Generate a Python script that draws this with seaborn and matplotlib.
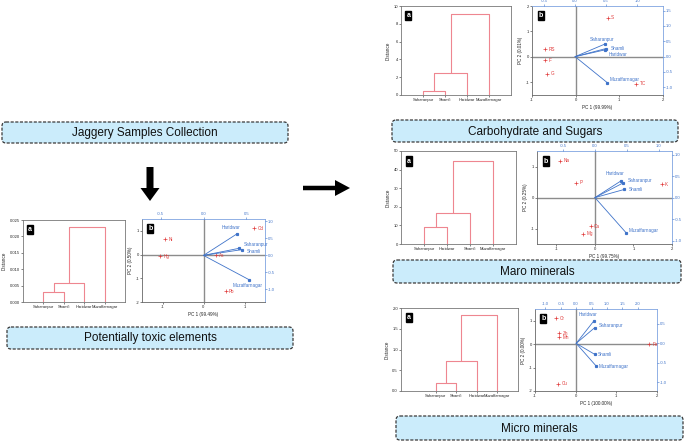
import numpy as np
import pandas as pd
import matplotlib
matplotlib.use('Agg')
import matplotlib.pyplot as plt
import seaborn as sns
from matplotlib.patches import FancyBboxPatch, FancyArrow

sns.set_theme(style='white')
plt.rcParams['font.family'] = ['Liberation Sans', 'DejaVu Sans']
plt.rcParams['axes.unicode_minus'] = False

# ---------------- data ----------------
box_titles = ['Jaggery Samples Collection', 'Potentially toxic elements',
              'Carbohydrate and Sugars', 'Maro minerals', 'Micro minerals']

# dendrograms (leaf order, successive merge heights)
pte_leaves = ['Saharanpur', 'Shamli', 'Haridwar', 'Muzaffarnagar']
pte_heights = [0.0030, 0.0058, 0.0228]
carb_leaves = ['Saharanpur', 'Shamli', 'Haridwar', 'Muzaffarnagar']
carb_heights = [0.45, 2.5, 9.1]
macro_leaves = ['Saharanpur', 'Haridwar', 'Shamli', 'Muzaffarnagar']
macro_heights = [9.0, 16.4, 44.6]
micro_leaves = ['Saharanpur', 'Shamli', 'Haridwar', 'Muzaffarnagar']
micro_heights = [0.20, 0.73, 1.84]

# PCA scores (variables)
pte_vars = ['Cd', 'Ni', 'Hg', 'As', 'Pb']
pte_pc1 = [1.23, -0.94, -1.06, 0.30, 0.54]
pte_pc2 = [1.10, 0.64, -0.07, -0.03, -1.54]
carb_vars = ['S', 'RS', 'F', 'G', 'TC']
carb_pc1 = [0.73, -0.70, -0.71, -0.66, 1.38]
carb_pc2 = [1.54, 0.29, -0.13, -0.66, -1.05]
macro_vars = ['Na', 'P', 'K', 'Ca', 'Mg']
macro_pc1 = [-0.90, -0.48, 1.73, -0.11, -0.31]
macro_pc2 = [1.18, 0.48, 0.43, -0.92, -1.17]
micro_vars = ['Cr', 'Zn', 'Mn', 'Fe', 'Cu']
micro_pc1 = [-0.48, -0.41, -0.41, 1.80, -0.43]
micro_pc2 = [1.11, 0.46, 0.29, 0.00, -1.69]

# PCA loadings (locations)
pte_sites = ['Haridwar', 'Saharanpur', 'Shamli', 'Muzaffarnagar']
pte_l1 = [0.39, 0.42, 0.45, 0.53]
pte_l2 = [0.63, 0.21, 0.17, -0.71]
carb_sites = ['Saharanpur', 'Shamli', 'Haridwar', 'Muzaffarnagar']
carb_l1 = [0.48, 0.49, 0.48, 0.52]
carb_l2 = [0.41, 0.26, 0.22, -0.85]
macro_sites = ['Haridwar', 'Saharanpur', 'Shamli', 'Muzaffarnagar']
macro_l1 = [0.41, 0.44, 0.46, 0.49]
macro_l2 = [0.39, 0.34, 0.19, -0.82]
micro_sites = ['Haridwar', 'Saharanpur', 'Shamli', 'Muzaffarnagar']
micro_l1 = [0.57, 0.60, 0.60, 0.65]
micro_l2 = [0.57, 0.40, -0.28, -0.58]

pc_labels = {'pte': ('PC 1 (99.49%)', 'PC 2 (0.50%)'),
             'carb': ('PC 1 (99.99%)', 'PC 2 (0.01%)'),
             'macro': ('PC 1 (99.75%)', 'PC 2 (0.25%)'),
             'micro': ('PC 1 (100.00%)', 'PC 2 (0.00%)')}

# ---------------- styling ----------------
W, H = 685, 442
RED = '#ee8690'
BLUE = '#3f73c9'
LBLUE = '#7fa3e0'
TS = 3.0

fig = plt.figure(figsize=(W / 100, H / 100), dpi=100)


def rect(x0, y0, x1, y1):
    return [x0 / W, 1 - y1 / H, (x1 - x0) / W, (y1 - y0) / H]


def panel_tag(ax, letter):
    ax.text(0.05, 0.93, letter, transform=ax.transAxes, ha='left', va='top',
            fontsize=5, color='white', fontweight='bold',
            bbox=dict(boxstyle='square,pad=0.15', fc='black', ec='black'))


def dendro(r, leaves, heights, ylim, yticks, yfmt, xlim=(0, 5)):
    ax = fig.add_axes(rect(*r))
    xs = np.arange(1, len(leaves) + 1)
    c, prev = (xs[0] + xs[1]) / 2, heights[0]
    ax.plot([xs[0], xs[0], xs[1], xs[1]], [0, heights[0], heights[0], 0], color=RED, lw=0.8)
    for i in range(2, len(leaves)):
        h = heights[i - 1]
        ax.plot([c, c, xs[i], xs[i]], [prev, h, h, 0], color=RED, lw=0.8)
        c, prev = (c + xs[i]) / 2, h
    ax.set_xlim(*xlim)
    ax.set_ylim(*ylim)
    ax.set_xticks(xs)
    ax.set_xticklabels(leaves)
    ax.set_yticks(yticks)
    ax.set_yticklabels([yfmt.format(v) for v in yticks])
    ax.tick_params(labelsize=TS, length=1.2, width=0.4, pad=1, direction='out',
                   left=True, bottom=True)
    ax.set_ylabel('Distance', fontsize=TS + 0.3, labelpad=2)
    for s in ax.spines.values():
        s.set_color('#777777')
        s.set_linewidth(0.6)
    panel_tag(ax, 'a')
    return ax


def pca(r, key, vars_, pc1, pc2, sites, l1, l2, lim, lim2, ticks, ticks2, offs):
    ax = fig.add_axes(rect(*r))
    df = pd.DataFrame({'var': vars_, 'PC1': pc1, 'PC2': pc2})
    ax.axhline(0, color='#8c8c8c', lw=1.0, zorder=1)
    ax.axvline(0, color='#8c8c8c', lw=1.0, zorder=1)
    sns.scatterplot(data=df, x='PC1', y='PC2', ax=ax, color='#e03a3a', marker='+',
                    s=6, linewidth=0.5, legend=False, zorder=3)
    for _, row in df.iterrows():
        ax.annotate(row['var'], (row['PC1'], row['PC2']), xytext=(2.5, 0),
                    textcoords='offset points', fontsize=3.3, color='#e03a3a',
                    ha='left', va='center')
    ax.set_xlim(*lim[0])
    ax.set_ylim(*lim[1])
    ax.set_xticks(ticks[0])
    ax.set_yticks(ticks[1])
    ax.set_xticklabels([f'{v:g}' for v in ticks[0]])
    ax.set_yticklabels([f'{v:g}' for v in ticks[1]])
    ax.tick_params(labelsize=TS, length=1.2, width=0.4, pad=1, left=True, bottom=True)
    ax.set_xlabel(pc_labels[key][0], fontsize=TS + 0.3, labelpad=2)
    ax.set_ylabel(pc_labels[key][1], fontsize=TS + 0.3, labelpad=2)
    for n, s in ax.spines.items():
        s.set_linewidth(0.6)
        s.set_color('#666666' if n in ('left', 'bottom') else LBLUE)

    ax2 = fig.add_axes(rect(*r))
    ax2.patch.set_alpha(0)
    for s in ax2.spines.values():
        s.set_visible(False)
    ax2.xaxis.tick_top()
    ax2.yaxis.tick_right()
    ax2.set_xlim(*lim2[0])
    ax2.set_ylim(*lim2[1])
    ax2.set_xticks(ticks2[0])
    ax2.set_yticks(ticks2[1])
    ax2.set_xticklabels([f'{v:.1f}' for v in ticks2[0]])
    ax2.set_yticklabels([f'{v:.1f}' for v in ticks2[1]])
    ax2.tick_params(labelsize=TS, length=1.2, width=0.4, pad=1, colors=BLUE,
                    top=True, right=True, bottom=False, left=False)
    ax2.grid(False)
    for name, a, b, (dx, dy, ha) in zip(sites, l1, l2, offs):
        ax2.plot([0, a], [0, b], color=BLUE, lw=0.6, zorder=2)
        ax2.plot([a], [b], marker='s', ms=1.3, color=BLUE, zorder=3)
        ax2.annotate(name, (a, b), xytext=(dx, dy), textcoords='offset points',
                     fontsize=3.3, color=BLUE, ha=ha, va='center')
    panel_tag(ax, 'b')
    return ax


# ---------------- dendrograms ----------------
dendro((23, 220, 125, 302), pte_leaves, pte_heights, (0, 0.025),
       [0, 0.005, 0.010, 0.015, 0.020, 0.025], '{:.3f}')
dendro((401, 6, 511, 95), carb_leaves, carb_heights, (0, 10),
       [0, 2, 4, 6, 8, 10], '{:g}')
dendro((401, 151, 516, 244), macro_leaves, macro_heights, (0, 50),
       [0, 10, 20, 30, 40, 50], '{:g}')
dendro((401, 308, 518, 391), micro_leaves, micro_heights, (0, 2.0),
       [0, 0.5, 1.0, 1.5, 2.0], '{:.1f}', xlim=(-0.7, 5.03))

# ---------------- biplots ----------------
pca((142, 219, 265, 302), 'pte', pte_vars, pte_pc1, pte_pc2, pte_sites, pte_l1, pte_l2,
    ((-1.5, 1.5), (-2, 1.5)), ((-0.72, 0.72), (-1.37, 1.07)),
    ([-1, 0, 1], [-2, -1, 0, 1]), ([-0.5, 0, 0.5], [-1, -0.5, 0, 0.5, 1]),
    [(-4, 5, 'center'), (3.5, 2.5, 'left'), (3.5, -1.5, 'left'), (-1, -4.5, 'center')])
pca((532, 6, 663, 95), 'carb', carb_vars, carb_pc1, carb_pc2, carb_sites, carb_l1, carb_l2,
    ((-1, 2), (-1.5, 2)), ((-0.695, 1.417), (-1.25, 1.65)),
    ([-1, 0, 1, 2], [-1, 0, 1, 2]), ([-0.5, 0, 0.5, 1.0], [-1.0, -0.5, 0, 0.5, 1.0, 1.5]),
    [(-2, 3, 'center'), (3.5, 0, 'left'), (3, -3, 'left'), (1.5, 2.5, 'left')])
pca((537, 151, 672, 244), 'macro', macro_vars, macro_pc1, macro_pc2, macro_sites,
    macro_l1, macro_l2,
    ((-1.5, 2), (-1.5, 1.5)), ((-0.91, 1.21), (-1.08, 1.085)),
    ([-1, 0, 1, 2], [-1, 0, 1]), ([-0.5, 0, 0.5, 1.0], [-1.0, -0.5, 0, 0.5, 1.0]),
    [(-4.5, 5, 'center'), (3.5, 2, 'left'), (3, 0, 'left'), (1.5, 2, 'left')])
pca((535, 309, 657, 391), 'micro', micro_vars, micro_pc1, micro_pc2, micro_sites,
    micro_l1, micro_l2,
    ((-1, 2), (-2, 1.5)), ((-1.34, 2.63), (-1.22, 0.88)),
    ([-1, 0, 1, 2], [-2, -1, 0, 1]), ([-1.0, -0.5, 0, 0.5, 1.0, 1.5, 2.0], [-1.0, -0.5, 0, 0.5]),
    [(-4, 5, 'center'), (3, 1.5, 'left'), (2.5, 0, 'left'), (1.5, 0, 'left')])

# ---------------- overlay: boxes and arrows ----------------
ov = fig.add_axes([0, 0, 1, 1])
ov.set_xlim(0, W)
ov.set_ylim(H, 0)
ov.axis('off')
ov.patch.set_alpha(0)
boxes = [(2, 122, 288, 143), (7, 327, 293, 349), (392, 120, 678, 142),
         (393, 260, 681, 283), (396, 416, 683, 440)]
for (x0, y0, x1, y1), t in zip(boxes, box_titles):
    ov.add_patch(FancyBboxPatch((x0, y0), x1 - x0, y1 - y0,
                                boxstyle='round,pad=0,rounding_size=4',
                                fc='#cbecfb', ec='#3a3a3a', ls=(0, (2.5, 1.2)), lw=0.9))
    ov.text((x0 + x1) / 2, (y0 + y1) / 2 + 0.5, t, ha='center', va='center',
            fontsize=8.5, color='#111111')
ov.add_patch(FancyArrow(150, 167, 0, 34, width=7, head_width=19, head_length=13,
                        length_includes_head=True, color='black', lw=0))
ov.add_patch(FancyArrow(303, 188, 47, 0, width=4.5, head_width=16, head_length=15,
                        length_includes_head=True, color='black', lw=0))

fig.savefig('out.png', dpi=100)
